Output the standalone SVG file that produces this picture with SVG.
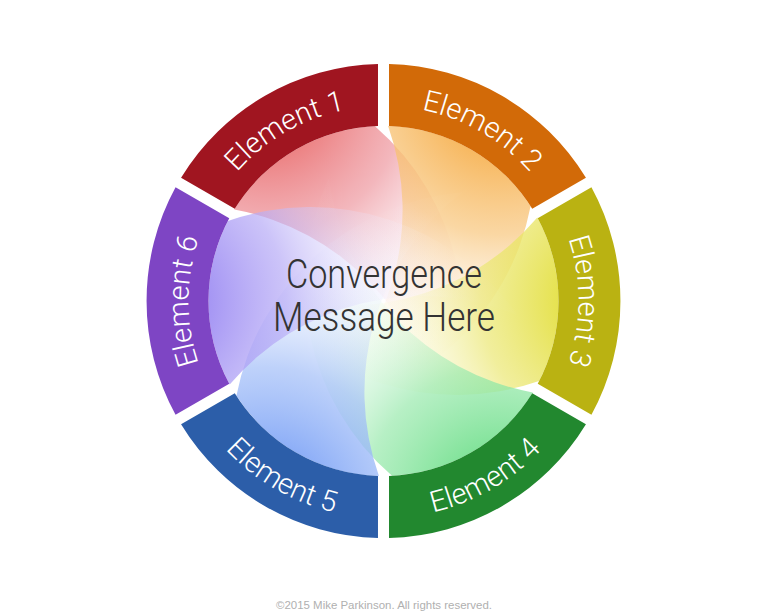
<svg xmlns="http://www.w3.org/2000/svg" xmlns:xlink="http://www.w3.org/1999/xlink" width="768" height="614" viewBox="0 0 768 614">
  <style>
    .label { font-family: Roboto, "Liberation Sans", sans-serif; font-weight: 300; font-size: 29px; fill: #ffffff; }
    .center { font-family: Roboto, "Liberation Sans", sans-serif; font-weight: 300; font-size: 41px; fill: #333333; }
    .copy { font-family: "Liberation Sans", Arial, sans-serif; font-size: 10px; fill: #b0b0b0; }
  </style>
  <defs>
    <path id="seg" d="M 207.95 -113.7 A 237.5 237.5 0 0 1 207.95 113.7 L 154.23 82.69 A 175 175 0 0 0 154.23 -82.69 Z"/>
    <path id="blade" d="M 153.8 -83.5 A 175 175 0 0 1 155.6 80 A 252 252 0 0 1 -133.7 -14 A 252 252 0 0 0 153.8 -83.5 Z"/>
    <path id="arcOut" d="M 168.9 -97.5 A 195 195 0 0 1 168.9 97.5"/>
    <path id="arcIn" d="M 187.9 108.5 A 217 217 0 0 0 187.9 -108.5"/>
    <radialGradient id="gPink" gradientUnits="userSpaceOnUse" cx="235" cy="0" r="305">
      <stop offset="0.15" stop-color="#ea7070" stop-opacity="0.95"/>
      <stop offset="0.45" stop-color="#ee98a0" stop-opacity="0.7"/>
      <stop offset="0.75" stop-color="#f8dce4" stop-opacity="0.25"/>
      <stop offset="1" stop-color="#ffffff" stop-opacity="0.02"/>
    </radialGradient>
    <radialGradient id="gOrange" gradientUnits="userSpaceOnUse" cx="235" cy="0" r="305">
      <stop offset="0.15" stop-color="#f6ae4a" stop-opacity="0.95"/>
      <stop offset="0.45" stop-color="#f8c67c" stop-opacity="0.7"/>
      <stop offset="0.75" stop-color="#fcecd4" stop-opacity="0.25"/>
      <stop offset="1" stop-color="#ffffff" stop-opacity="0.02"/>
    </radialGradient>
    <radialGradient id="gYellow" gradientUnits="userSpaceOnUse" cx="235" cy="0" r="305">
      <stop offset="0.15" stop-color="#e2de36" stop-opacity="0.95"/>
      <stop offset="0.45" stop-color="#ebe772" stop-opacity="0.7"/>
      <stop offset="0.75" stop-color="#faf8d6" stop-opacity="0.25"/>
      <stop offset="1" stop-color="#ffffff" stop-opacity="0.02"/>
    </radialGradient>
    <radialGradient id="gGreen" gradientUnits="userSpaceOnUse" cx="235" cy="0" r="305">
      <stop offset="0.15" stop-color="#70df8c" stop-opacity="0.95"/>
      <stop offset="0.45" stop-color="#98e9ac" stop-opacity="0.7"/>
      <stop offset="0.75" stop-color="#ddf8e4" stop-opacity="0.25"/>
      <stop offset="1" stop-color="#ffffff" stop-opacity="0.02"/>
    </radialGradient>
    <radialGradient id="gBlue" gradientUnits="userSpaceOnUse" cx="235" cy="0" r="305">
      <stop offset="0.15" stop-color="#7ca2f6" stop-opacity="0.95"/>
      <stop offset="0.45" stop-color="#a2bef8" stop-opacity="0.7"/>
      <stop offset="0.75" stop-color="#e0e9fd" stop-opacity="0.25"/>
      <stop offset="1" stop-color="#ffffff" stop-opacity="0.02"/>
    </radialGradient>
    <radialGradient id="gPurple" gradientUnits="userSpaceOnUse" cx="235" cy="0" r="305">
      <stop offset="0.15" stop-color="#9886f2" stop-opacity="0.95"/>
      <stop offset="0.45" stop-color="#b6aaf6" stop-opacity="0.7"/>
      <stop offset="0.75" stop-color="#e8e4fd" stop-opacity="0.25"/>
      <stop offset="1" stop-color="#ffffff" stop-opacity="0.02"/>
    </radialGradient>
  </defs>

  <rect width="768" height="614" fill="#ffffff"/>

  <g id="blades">
    <g id="blade-1" transform="translate(383.5,301) rotate(-120)"><use xlink:href="#blade" fill="url(#gPink)"/></g>
    <g id="blade-2" transform="translate(383.5,301) rotate(-60)"><use xlink:href="#blade" fill="url(#gOrange)"/></g>
    <g id="blade-3" transform="translate(383.5,301) rotate(0)"><use xlink:href="#blade" fill="url(#gYellow)"/></g>
    <g id="blade-4" transform="translate(383.5,301) rotate(60)"><use xlink:href="#blade" fill="url(#gGreen)"/></g>
    <g id="blade-5" transform="translate(383.5,301) rotate(120)"><use xlink:href="#blade" fill="url(#gBlue)"/></g>
    <g id="blade-6" transform="translate(383.5,301) rotate(180)"><use xlink:href="#blade" fill="url(#gPurple)"/></g>
  </g>

  <g id="element-1" transform="translate(383.5,301) rotate(-120)">
    <use xlink:href="#seg" fill="#a01520"/>
    <text class="label"><textPath xlink:href="#arcOut" startOffset="50%" text-anchor="middle">Element 1</textPath></text>
  </g>
  <g id="element-2" transform="translate(383.5,301) rotate(-60)">
    <use xlink:href="#seg" fill="#d26a08"/>
    <text class="label"><textPath xlink:href="#arcOut" startOffset="50%" text-anchor="middle">Element 2</textPath></text>
  </g>
  <g id="element-3" transform="translate(383.5,301) rotate(0)">
    <use xlink:href="#seg" fill="#bab212"/>
    <text class="label"><textPath xlink:href="#arcOut" startOffset="50%" text-anchor="middle">Element 3</textPath></text>
  </g>
  <g id="element-4" transform="translate(383.5,301) rotate(60)">
    <use xlink:href="#seg" fill="#22882f"/>
    <text class="label"><textPath xlink:href="#arcIn" startOffset="50%" text-anchor="middle">Element 4</textPath></text>
  </g>
  <g id="element-5" transform="translate(383.5,301) rotate(120)">
    <use xlink:href="#seg" fill="#2c5ea9"/>
    <text class="label"><textPath xlink:href="#arcIn" startOffset="50%" text-anchor="middle">Element 5</textPath></text>
  </g>
  <g id="element-6" transform="translate(383.5,301) rotate(180)">
    <use xlink:href="#seg" fill="#7e45c4"/>
    <text class="label"><textPath xlink:href="#arcOut" startOffset="50%" text-anchor="middle">Element 6</textPath></text>
  </g>

  <g id="center-message">
    <text class="center" x="384" y="288" text-anchor="middle" textLength="196" lengthAdjust="spacingAndGlyphs">Convergence</text>
    <text class="center" x="384" y="331" text-anchor="middle" textLength="222" lengthAdjust="spacingAndGlyphs">Message Here</text>
  </g>

  <text class="copy" x="384" y="609" text-anchor="middle" textLength="216" lengthAdjust="spacingAndGlyphs">©2015 Mike Parkinson. All rights reserved.</text>
</svg>
